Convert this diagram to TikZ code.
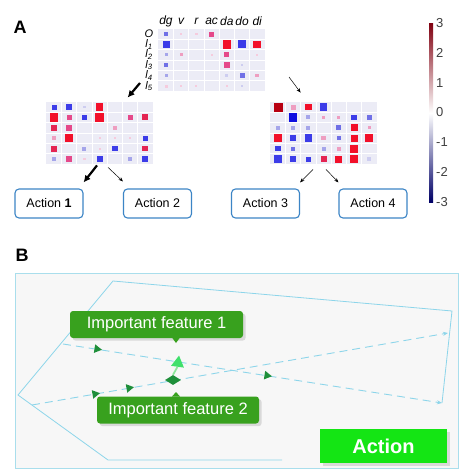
\documentclass[tikz,border=0pt]{standalone}
\usepackage{fontspec}
\setmainfont{Liberation Sans}
\usetikzlibrary{arrows.meta,shapes.geometric,shadows}

\definecolor{gridbg}{HTML}{ECECF6}
\definecolor{fpink}{HTML}{F5CBDD}
\definecolor{lpink}{HTML}{EE9EC0}
\definecolor{pink}{HTML}{E5498A}
\definecolor{rpink}{HTML}{E42452}
\definecolor{hred}{HTML}{F2102A}
\definecolor{dred}{HTML}{B80012}
\definecolor{fblue}{HTML}{CDCDF0}
\definecolor{lblue}{HTML}{A5A5EA}
\definecolor{mblue}{HTML}{7070E6}
\definecolor{hblue}{HTML}{3C3CE8}
\definecolor{dblue}{HTML}{0E0EE0}
\definecolor{actblue}{HTML}{3C85C6}
\definecolor{boxbg}{HTML}{F7F7F7}
\definecolor{boxedge}{HTML}{A9DEEC}
\definecolor{pathcyan}{HTML}{8DD5EA}
\definecolor{mkgreen}{HTML}{1E8F3A}
\definecolor{featgreen}{HTML}{38A11E}
\definecolor{lightgreen}{HTML}{8EE69C}
\definecolor{tipgreen}{HTML}{3FE06B}
\definecolor{actgreen}{HTML}{14E514}
\definecolor{cbdred}{HTML}{800010}
\definecolor{cbred}{HTML}{F01E3C}
\definecolor{cbblue}{HTML}{3636E0}
\definecolor{cbdblue}{HTML}{000066}

\tikzset{
  panellabel/.style={font=\fontsize{18}{20}\selectfont\bfseries},
  mapbg/.style={fill=gridbg, draw=none, inner sep=0pt, minimum width=106.4pt, minimum height=62.4pt},
  gridline/.style={white, line width=0.7pt},
  collabel/.style={font=\fontsize{12}{13}\selectfont\itshape, inner sep=0pt},
  rowlabel/.style={font=\fontsize{11}{12}\selectfont\itshape, inner sep=0pt},
  actionbox/.style={draw=actblue, line width=1.1pt, rounded corners=4pt, fill=white,
    minimum width=68pt, minimum height=29pt, font=\fontsize{12.5}{14}\selectfont},
  bigarrow/.style={-{Latex[length=7pt,width=7pt]}, line width=2.2pt},
  smallarrow/.style={-{Stealth[length=4.5pt,width=3.5pt]}, line width=0.5pt},
  cblabel/.style={anchor=west, inner sep=0pt, text=black!75, font=\fontsize{13}{14}\selectfont},
  pathline/.style={pathcyan, line width=0.8pt},
  dashpath/.style={pathcyan, line width=0.9pt, dash pattern=on 8pt off 5pt, -{Stealth[length=5pt,width=4pt]}},
  marker/.style={regular polygon, regular polygon sides=3, fill=mkgreen, inner sep=0pt, minimum size=10pt},
  featbox/.style={fill=featgreen, text=white, rounded corners=3pt, drop shadow={opacity=0.25},
    minimum height=27pt, font=\fontsize{16.5}{18}\selectfont},
  actbig/.style={fill=actgreen, text=white, drop shadow={opacity=0.25}, minimum width=127pt,
    minimum height=34pt, font=\fontsize{20}{22}\selectfont\bfseries}
}

\begin{document}
\begin{tikzpicture}[x=1pt,y=-1pt]
  \useasboundingbox (0,0) rectangle (474,474);
  \fill[white] (0,0) rectangle (474,474);

  % Panel A
  \node[panellabel] (labA) at (20,27) {A};

  % Heatmaps
  \node[mapbg] (topmap) at (211.6,60) {};
  \node[mapbg] (leftmap) at (99.6,133) {};
  \node[mapbg] (rightmap) at (323.6,133) {};

  \begin{scope}[shift={(166,34)}]
    \foreach \i in {1,...,6} \draw[gridline] (\i*15.2-7.6,-5.2) -- ++(0,62.4);
    \foreach \j in {1,...,5} \draw[gridline] (-7.6,\j*10.4-5.2) -- ++(106.4,0);
    \foreach \c/\r/\s/\col in {0/0/4.5/mblue, 1/0/2.5/fpink, 2/0/2.5/fpink, 3/0/5/pink,
        0/1/7/hblue, 4/1/8.5/hred, 5/1/8/hblue, 6/1/7.5/hred,
        0/2/3/lblue, 1/2/3/lpink, 3/2/2/fpink, 4/2/5/pink, 6/2/2/fpink,
        0/3/4/mblue, 4/3/5.5/pink, 5/3/2/fblue,
        0/4/3/lblue, 4/4/3/fblue, 5/4/5/mblue, 6/4/3.5/lpink,
        0/5/3/fpink, 1/5/2.5/fpink, 2/5/2/fpink, 4/5/2.5/fpink, 5/5/2/fblue}
      \fill[\col] (\c*15.2-\s/2,\r*10.4-\s/2) rectangle ++(\s,\s);
  \end{scope}

  \begin{scope}[shift={(54,107)}]
    \foreach \i in {1,...,6} \draw[gridline] (\i*15.2-7.6,-5.2) -- ++(0,62.4);
    \foreach \j in {1,...,5} \draw[gridline] (-7.6,\j*10.4-5.2) -- ++(106.4,0);
    \foreach \c/\r/\s/\col in {0/0/5/hblue, 1/0/6.5/hblue, 2/0/2.5/fblue, 3/0/7.5/hred,
        0/1/8.5/hred, 1/1/5/pink, 2/1/5/hblue, 3/1/8.5/hred, 5/1/5/pink, 6/1/6/rpink,
        0/2/6/rpink, 1/2/6/pink, 4/2/4/lpink,
        0/3/4.5/lpink, 1/3/8/hred, 3/3/2/fpink, 4/3/2/fpink, 5/3/2.5/fpink, 6/3/5/hblue,
        0/4/6/rpink, 2/4/4/lblue, 3/4/2/fpink, 4/4/5.5/hblue, 6/4/5.5/rpink,
        0/5/4/lblue, 1/5/6/pink, 2/5/2.5/fpink, 3/5/6/hblue, 5/5/4/lblue, 6/5/6/hblue}
      \fill[\col] (\c*15.2-\s/2,\r*10.4-\s/2) rectangle ++(\s,\s);
  \end{scope}

  \begin{scope}[shift={(278,107)}]
    \foreach \i in {1,...,6} \draw[gridline] (\i*15.2-7.6,-5.2) -- ++(0,62.4);
    \foreach \j in {1,...,5} \draw[gridline] (-7.6,\j*10.4-5.2) -- ++(106.4,0);
    \foreach \c/\r/\s/\col in {0/0/9/dred, 1/0/5/lpink, 2/0/6.5/hred, 3/0/7.5/hblue,
        1/1/8.5/dblue, 2/1/4/lblue, 3/1/3/lpink, 4/1/3/lpink, 5/1/5.5/hblue, 6/1/5/mblue,
        0/2/4/lblue, 1/2/4/lblue, 2/2/4/lblue, 4/2/5/mblue, 5/2/7/hred, 6/2/3/lpink,
        0/3/8/hred, 1/3/6/hblue, 2/3/7.5/hblue, 3/3/4.5/lpink, 4/3/4.5/mblue, 5/3/7/hred, 6/3/8/hred,
        0/4/5.5/hblue, 1/4/4/mblue, 3/4/4/lblue, 4/4/4/lpink, 5/4/8/hred,
        0/5/8/hblue, 1/5/5.5/hblue, 2/5/5/hblue, 3/5/6/rpink, 4/5/7/hred, 5/5/8.5/hred, 6/5/3.5/fblue}
      \fill[\col] (\c*15.2-\s/2,\r*10.4-\s/2) rectangle ++(\s,\s);
  \end{scope}

  % Axis labels
  \foreach \t [count=\i from 0] in {dg,v,r,ac,da,do,di}
    \node[collabel] (col\t) at (166+\i*15.2,21) {\t};
  \node[rowlabel] (rowO) at (149,34) {O};
  \foreach \k in {1,...,5}
    \node[rowlabel] (rowl\k) at (149,34+\k*10.4) {l\textsubscript{\k}};

  % Actions
  \node[actionbox] (act1) at (49,203.5) {Action \textbf{1}};
  \node[actionbox] (act2) at (157.5,203.5) {Action 2};
  \node[actionbox] (act3) at (265.5,203.5) {Action 3};
  \node[actionbox] (act4) at (373,203.5) {Action 4};

  \coordinate (splitL) at (140,83);
  \coordinate (splitR) at (289,77);
  \draw[bigarrow] (splitL) -- ([xshift=28pt,yshift=4pt]leftmap.north);
  \draw[smallarrow] (splitR) -- ([xshift=-23pt,yshift=9pt]rightmap.north);
  \draw[bigarrow] ([xshift=-2.6pt,yshift=-1pt]leftmap.south) -- ([yshift=6pt]act1.north east);
  \draw[smallarrow] ([xshift=8.4pt,yshift=-3pt]leftmap.south) -- ([yshift=7pt]act2.north west);
  \draw[smallarrow] ([xshift=-10.6pt,yshift=-5pt]rightmap.south) -- ([yshift=6pt]act3.north east);
  \draw[smallarrow] ([xshift=2.4pt,yshift=-5pt]rightmap.south) -- ([yshift=6pt]act4.north west);

  % Colour bar
  \shade[top color=cbdred, middle color=cbred, bottom color=white] (429,23) rectangle (433,113);
  \shade[top color=white, middle color=cbblue, bottom color=cbdblue] (429,113) rectangle (433,202);
  \foreach \v [count=\k from 0] in {3,2,1,0,-1,-2,-3}
    \node[cblabel] (cb\k) at (436,23+\k*29.83) {\v};

  % Panel B
  \node[panellabel] (labB) at (22,255) {B};
  \filldraw[fill=boxbg, draw=boxedge, line width=0.9pt] (15,273) rectangle (458,468);

  \draw[pathline] (282,460) -- (108,460) -- (18,395) -- (113,281) -- (452,311) -- (442,403);
  \draw[dashpath] (63,344) -- (442,403);
  \draw[dashpath] (32,405) -- (448,333);

  \node[marker, rotate=-98.8] (mk1) at (97,349) {};
  \node[marker, rotate=-98.8] (mk2) at (267,375.5) {};
  \node[marker, rotate=-80.2] (mk3) at (95,394) {};
  \node[marker, rotate=-80.2] (mk4) at (129,388) {};
  \node[diamond, fill=mkgreen, inner sep=0pt, minimum width=16pt, minimum height=10pt] (dia) at (173,380) {};
  \node[regular polygon, regular polygon sides=3, fill=tipgreen, inner sep=0pt, minimum size=15pt, rotate=-8] (ftri) at (178,363) {};
  \draw[lightgreen, line width=1.8pt] (dia.north) -- (ftri.side 2);

  \node[featbox, minimum width=173pt] (feat1) at (156.5,324.5) {Important feature 1};
  \node[featbox, minimum width=162pt] (feat2) at (178,410) {Important feature 2};
  \fill[featgreen] (172,337.5) -- (180,337.5) -- (176,343) -- cycle;
  \fill[featgreen] (172,396.5) -- (180,396.5) -- (176,392) -- cycle;

  \node[actbig] (actB) at (383.5,446) {Action};
\end{tikzpicture}
\end{document}
